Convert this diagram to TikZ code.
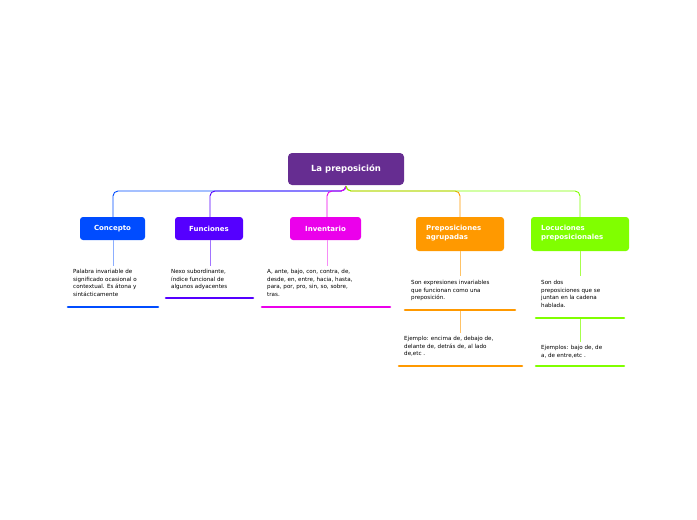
\documentclass[tikz,border=0pt]{standalone}
\usepackage{fontspec}
\setmainfont{DejaVu Sans}
\begin{document}
\begin{tikzpicture}[x=1pt,y=-1pt,
  box/.style={rounded corners=3pt,text=white,font=\bfseries\fontsize{7}{8}\selectfont,inner sep=0},
  txt/.style={anchor=north west,align=left,font=\fontsize{5.6}{7.6}\selectfont,inner sep=0},
  ul/.style={line width=2.6pt,line cap=round},
  br/.style={line width=0.9pt,rounded corners=5pt},
  st/.style={line width=0.8pt}]
\definecolor{cp}{RGB}{102,45,145}
\definecolor{c1}{RGB}{0,76,255}
\definecolor{c2}{RGB}{85,0,255}
\definecolor{c3}{RGB}{235,0,235}
\definecolor{c4}{RGB}{255,153,0}
\definecolor{c5}{RGB}{128,255,0}
\useasboundingbox (0,0) rectangle (697,520);
\fill[cp,rounded corners=4pt] (288,153) rectangle (404,185);
\node[text=white,font=\bfseries\fontsize{8.5}{10}\selectfont] (root) at (346,169) {La preposición};
\coordinate (rb) at (346,186);
% child boxes
\fill[c1,rounded corners=3pt] (80,217) rectangle (145,240);
\node[box] (a) at (112.5,228.5) {Concepto};
\fill[c2,rounded corners=3pt] (175,217) rectangle (243,240);
\node[box] (b) at (209,228.5) {Funciones};
\fill[c3,rounded corners=3pt] (290,217) rectangle (361,240);
\node[box] (c) at (325.5,228.5) {Inventario};
\fill[c4,rounded corners=3pt] (416,217) rectangle (504,251);
\node[box,align=left,anchor=north west,font=\bfseries\fontsize{7}{8.5}\selectfont] (d) at (426,225) {Preposiciones\\agrupadas};
\fill[c5,rounded corners=3pt] (531,217) rectangle (629,251);
\node[box,align=left,anchor=north west,font=\bfseries\fontsize{7}{8.5}\selectfont] (e) at (541,225) {Locuciones\\preposicionales};
% branches
\draw[br,c1] (rb) -- (346,191) -- (113,191) -- (113,217);
\draw[br,c2] (rb) -- (346,191) -- (210,191) -- (210,217);
\draw[br,c3] (rb) -- (346,191) -- (327,191) -- (327,217);
\draw[br,c4] (rb) -- (346,191) -- (460,191) -- (460,217);
\draw[br,c5] (rb) -- (346,191) -- (580,191) -- (580,217);
% texts
\node[txt] (a1) at (73,269) {Palabra invariable de\\significado ocasional o\\contextual. Es átona y\\sintácticamente};
\draw[ul,c1] (68,307) -- (158,307);
\node[txt] (b1) at (171,269) {Nexo subordinante,\\índice funcional de\\algunos adyacentes};
\draw[ul,c2] (166,298) -- (253,298);
\node[txt] (c1n) at (267,269) {A, ante, bajo, con, contra, de,\\desde, en, entre, hacia, hasta,\\para, por, pro, sin, so, sobre,\\tras.};
\draw[ul,c3] (262,307) -- (390,307);
\node[txt] (d1) at (411,280) {Son expresiones invariables\\que funcionan como una\\preposición.};
\draw[ul,c4] (405,310) -- (515,310);
\node[txt] (d2) at (404,336) {Ejemplo: encima de, debajo de,\\delante de, detrás de, al lado\\de,etc .};
\draw[ul,c4] (399,366) -- (522,366);
\node[txt] (e1) at (541,280) {Son dos\\preposiciones que se\\juntan en la cadena\\hablada.};
\draw[ul,c5] (536,318) -- (624,318);
\node[txt] (e2) at (541,345) {Ejemplos: bajo de, de\\a, de entre,etc .};
\draw[ul,c5] (536,366) -- (624,366);
% stems
\draw[st,c1!45] (113,240) -- (113,266);
\draw[st,c2!55] (210,240) -- (210,266);
\draw[st,c3!45] (327,240) -- (327,266);
\draw[st,c4!60] (460,251) -- (460,276);
\draw[st,c4!60] (460,311) -- (460,333);
\draw[st,c5!70] (580,251) -- (580,276);
\draw[st,c5!70] (580,319) -- (580,342);
\end{tikzpicture}
\end{document}
